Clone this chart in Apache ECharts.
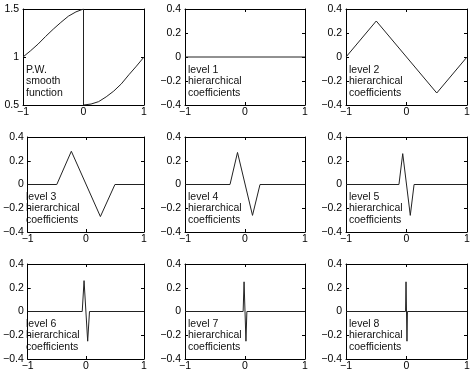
<!DOCTYPE html>
<html>
<head>
<meta charset="utf-8">
<script src="https://cdn.jsdelivr.net/npm/echarts@6/dist/echarts.min.js"></script>
<style>
  html, body { margin: 0; padding: 0; background: #fff; }
  #chart { width: 474px; height: 375px; }
</style>
</head>
<body>
<div id="chart"></div>
<script>
// 数据：每个子图一组 [x, y] 点
const pwSmooth = [
  [-1, 1.0], [-0.875, 1.065], [-0.75, 1.135], [-0.625, 1.215], [-0.5, 1.29],
  [-0.375, 1.36], [-0.25, 1.425], [-0.125, 1.47], [0, 1.5],
  [0, 0.5], [0.125, 0.51], [0.25, 0.535], [0.375, 0.585], [0.5, 0.645],
  [0.625, 0.72], [0.75, 0.815], [0.875, 0.905], [1, 1.0],
]
const level1 = [[-1, 0], [1, 0]]
const level2 = [[-1, 0], [-0.5, 0.3], [0.5, -0.3], [1, 0]]
const level3 = [[-1, 0], [-0.5, 0], [-0.25, 0.28], [0.25, -0.27], [0.5, 0], [1, 0]]
const level4 = [[-1, 0], [-0.25, 0], [-0.125, 0.27], [0.125, -0.26], [0.25, 0], [1, 0]]
const level5 = [[-1, 0], [-0.125, 0], [-0.0625, 0.26], [0.0625, -0.26], [0.125, 0], [1, 0]]
const level6 = [[-1, 0], [-0.0625, 0], [-0.03125, 0.26], [0.03125, -0.25], [0.0625, 0], [1, 0]]
const level7 = [[-1, 0], [-0.03125, 0], [-0.015625, 0.25], [0.015625, -0.25], [0.03125, 0], [1, 0]]
const level8 = [[-1, 0], [-0.015625, 0], [-0.0078125, 0.25], [0.0078125, -0.25], [0.015625, 0], [1, 0]]

const panelData = [pwSmooth, level1, level2, level3, level4, level5, level6, level7, level8]
const panelText = [
  'P.W.\nsmooth\nfunction',
  'level 1\nhierarchical\ncoefficients',
  'level 2\nhierarchical\ncoefficients',
  'level 3\nhierarchical\ncoefficients',
  'level 4\nhierarchical\ncoefficients',
  'level 5\nhierarchical\ncoefficients',
  'level 6\nhierarchical\ncoefficients',
  'level 7\nhierarchical\ncoefficients',
  'level 8\nhierarchical\ncoefficients',
]
// y 轴范围
const yRangeFirst = [0.5, 1.5, 0.5]
const yRangeLevel = [-0.4, 0.4, 0.2]

// 布局（像素）
const colLeft = [23, 185, 346]
const colWidth = [121, 120, 121]
const rowTop = [9, 137, 264]
const rowHeight = [96, 95, 95]

const FONT = '"Liberation Sans", Arial, Helvetica, sans-serif'
const fmt = (v) => String(+v.toFixed(2)).replace('-', '\u2212')

const grid = []
const xAxis = []
const yAxis = []
const series = []
const graphic = []

panelData.forEach((data, i) => {
  const r = Math.floor(i / 3)
  const c = i % 3
  grid.push({left: colLeft[c], top: rowTop[r], width: colWidth[c], height: rowHeight[r]})
  const yr = i === 0 ? yRangeFirst : yRangeLevel
  const line = {show: true, onZero: false, lineStyle: {color: '#000', width: 1}}
  const tick = {show: true, inside: true, length: 3, lineStyle: {color: '#000'}}
  // 下、上 x 轴
  xAxis.push({
    type: 'value', gridIndex: i, min: -1, max: 1, interval: 1, position: 'bottom',
    axisLine: line, axisTick: tick, splitLine: {show: false},
    axisLabel: {color: '#000', fontSize: 10.5, fontFamily: FONT, margin: 2, formatter: fmt},
  })
  xAxis.push({
    type: 'value', gridIndex: i, min: -1, max: 1, interval: 1, position: 'top',
    axisLine: line, axisTick: tick, splitLine: {show: false}, axisLabel: {show: false},
  })
  // 左、右 y 轴
  yAxis.push({
    type: 'value', gridIndex: i, min: yr[0], max: yr[1], interval: yr[2], position: 'left',
    axisLine: line, axisTick: tick, splitLine: {show: false},
    axisLabel: {color: '#000', fontSize: 10.5, fontFamily: FONT, margin: 4, formatter: fmt},
  })
  yAxis.push({
    type: 'value', gridIndex: i, min: yr[0], max: yr[1], interval: yr[2], position: 'right',
    axisLine: line, axisTick: tick, splitLine: {show: false}, axisLabel: {show: false},
  })
  series.push({
    type: 'line', xAxisIndex: i * 2, yAxisIndex: i * 2, data: data,
    showSymbol: false, symbol: 'none', animation: false,
    lineStyle: {color: '#222', width: 1},
  })
  graphic.push({
    type: 'text',
    left: colLeft[c] + 3,
    top: rowTop[r] + rowHeight[r] - 41,
    style: {text: panelText[i], fill: '#111', font: '10.5px ' + FONT, lineHeight: 11.5},
  })
})

const chart = echarts.init(document.getElementById('chart'))
chart.setOption({animation: false, grid, xAxis, yAxis, series, graphic})
</script>
</body>
</html>
